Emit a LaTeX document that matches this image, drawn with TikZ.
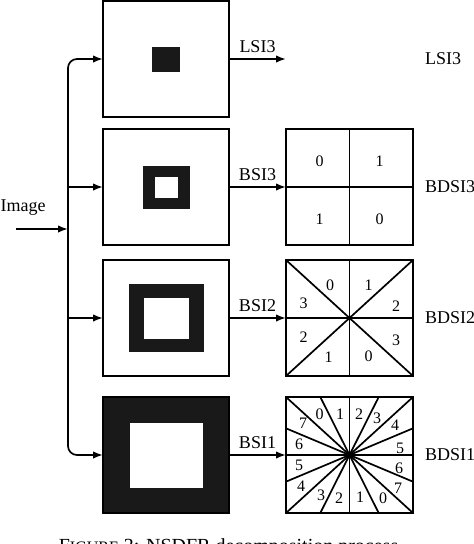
\documentclass[tikz,border=0pt]{standalone}
\usepackage{fontspec}
\setmainfont{Liberation Serif}
\usetikzlibrary{positioning,calc,arrows.meta}

\begin{document}
\begin{tikzpicture}[x=1pt,y=-1pt,>={Latex[length=10pt,width=7.5pt]},line width=1.7pt,font=\fontsize{18}{21}\selectfont]
  \tikzstyle{panel}=[draw=black,minimum width=126pt,minimum height=116pt,inner sep=0pt,outer sep=0pt]
  \tikzstyle{sectors}=[draw=black,minimum width=127pt,minimum height=116pt,inner sep=0pt,outer sep=0pt]
  \tikzstyle{blob}=[fill=black!90,inner sep=0pt,outer sep=0pt]
  \tikzstyle{hole}=[fill=white,inner sep=0pt,outer sep=0pt]
  \tikzstyle{digit}=[font=\fontsize{16}{19}\selectfont,inner sep=1pt]

  \useasboundingbox (0,0) rectangle (474,544);

  \node[panel] (lsi) at (166,59) {};
  \node[panel,below=12pt of lsi] (bsi3) {};
  \node[panel,below=15pt of bsi3] (bsi2) {};
  \node[panel,fill=black!90,below=21pt of bsi2] (bsi1) {};

  \node[blob,minimum width=28pt,minimum height=25pt] (lsicore) at (lsi) {};
  \node[blob,minimum width=47pt,minimum height=43pt] (bsi3ring) at (bsi3) {};
  \node[hole,minimum width=23pt,minimum height=21pt] (bsi3hole) at (bsi3) {};
  \node[blob,minimum width=75pt,minimum height=68pt] (bsi2ring) at (bsi2) {};
  \node[hole,minimum width=45pt,minimum height=41pt] (bsi2hole) at (bsi2) {};
  \node[hole,minimum width=73pt,minimum height=65pt] (bsi1hole) at (bsi1) {};

  \node[sectors,right=57pt of bsi3] (bdsi3) {};
  \node[sectors,right=57pt of bsi2] (bdsi2) {};
  \node[sectors,right=57pt of bsi1] (bdsi1) {};

  \foreach \g in {bdsi3,bdsi2,bdsi1}
    \draw (\g.north) -- (\g.south) (\g.west) -- (\g.east);
  \foreach \g in {bdsi2,bdsi1}
    \draw (\g.north west) -- (\g.south east) (\g.north east) -- (\g.south west);
  \draw ($(bdsi1.north)!0.46!(bdsi1.north west)$) -- ($(bdsi1.south)!0.46!(bdsi1.south east)$)
        ($(bdsi1.north)!0.46!(bdsi1.north east)$) -- ($(bdsi1.south)!0.46!(bdsi1.south west)$)
        ($(bdsi1.west)!0.46!(bdsi1.north west)$) -- ($(bdsi1.east)!0.46!(bdsi1.south east)$)
        ($(bdsi1.west)!0.46!(bdsi1.south west)$) -- ($(bdsi1.east)!0.46!(bdsi1.north east)$);

  \foreach \dx/\dy/\t [count=\i] in {-30/-26/0,30/-26/1,-30/32/1,30/32/0}
    \node[digit] (bdsi3d\i) at ($(bdsi3.center)+(\dx,\dy)$) {\t};
  \foreach \dx/\dy/\t [count=\i] in {-19.5/-33/0,19/-33/1,46.5/-12/2,46.5/22/3,
                                     19/38/0,-21/39/1,-46/19/2,-46/-15/3}
    \node[digit] (bdsi2d\i) at ($(bdsi2.center)+(\dx,\dy)$) {\t};
  \foreach \dx/\dy/\t [count=\i] in {-30/-41/0,-9.5/-41/1,9.5/-41/2,27.5/-37/3,
                                     45.5/-30/4,50.5/-7/5,49.5/13/6,48.5/33/7,
                                     33.5/43/0,10.5/42/1,-10.5/43/2,-28.5/40/3,
                                     -48.5/31/4,-50.5/10/5,-50.5/-11/6,-46.5/-32/7}
    \node[digit] (bdsi1d\i) at ($(bdsi1.center)+(\dx,\dy)$) {\t};

  \coordinate (trunk) at (68,229);
  \coordinate (imgin) at (16,229);
  \node (imglabel) at (23,208) {Image};
  \draw[->] (imgin) -- (trunk);
  \draw[->,rounded corners=9pt] (trunk) |- (lsi.west);
  \draw[->,rounded corners=9pt] (trunk) |- (bsi1.west);
  \draw[->] (trunk |- bsi3.west) -- (bsi3.west);
  \draw[->] (trunk |- bsi2.west) -- (bsi2.west);

  \coordinate (lsiend) at (bdsi3.west |- lsi.east);
  \draw[->] (lsi.east) -- node[above=2pt] {LSI3} (lsiend);
  \draw[->] (bsi3.east) -- node[above=2pt] {BSI3} (bdsi3.west);
  \draw[->] (bsi2.east) -- node[above=2pt] {BSI2} (bdsi2.west);
  \draw[->] (bsi1.east) -- node[above=2pt] {BSI1} (bdsi1.west);

  \node[right=8pt of bdsi3] (bdsi3name) {BDSI3};
  \node[right=8pt of bdsi2] (bdsi2name) {BDSI2};
  \node[right=8pt of bdsi1] (bdsi1name) {BDSI1};
  \node[anchor=west] (lsiname) at (bdsi3name.west |- lsi) {LSI3};

  \node[anchor=base west,inner sep=0pt,font=\fontsize{20}{24}\selectfont] (caption) at (58,552.5)
    {F{\fontsize{16}{19}\selectfont IGURE} 3: NSDFR decomposition process};
\end{tikzpicture}
\end{document}
